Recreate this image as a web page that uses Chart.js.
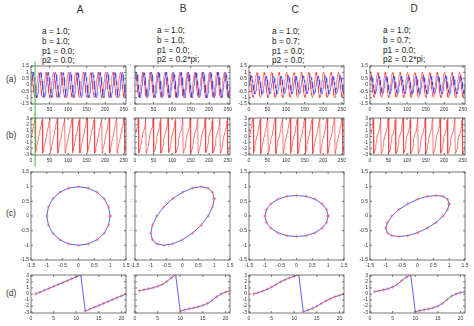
<!DOCTYPE html>
<html>
<head>
<meta charset="utf-8">
<script src="https://cdn.jsdelivr.net/npm/chart.js@4.4.1/dist/chart.umd.min.js"></script>
<style>
body { margin: 0; width: 474px; height: 326px; position: relative; overflow: hidden; background: #fff;
       font-family: "Liberation Sans", Arial, sans-serif; color: #333; }
.ttl { position: absolute; font-size: 10px; transform: translate(-50%, -50%); }
.prm { position: absolute; font-size: 8.3px; line-height: 9.8px; white-space: pre; color: #222; }
.row { position: absolute; font-size: 8.5px; transform: translateY(-50%); }
canvas { position: absolute; }
</style>
</head>
<body>
<div class="ttl" style="left:80px;top:9px">A</div>
<div class="ttl" style="left:183px;top:8px">B</div>
<div class="ttl" style="left:295px;top:9px">C</div>
<div class="ttl" style="left:414px;top:8px">D</div>

<div class="prm" style="left:42px;top:27px">a = 1.0;
b = 1.0;
p1 = 0.0;
p2 = 0.0;</div>
<div class="prm" style="left:157px;top:26px">a = 1.0;
b = 1.0;
p1 = 0.0;
p2 = 0.2*pi;</div>
<div class="prm" style="left:272px;top:27px">a = 1.0;
b = 0.7;
p1 = 0.0;
p2 = 0.0;</div>
<div class="prm" style="left:383px;top:26px">a = 1.0;
b = 0.7;
p1 = 0.0;
p2 = 0.2*pi;</div>

<div class="row" style="left:6px;top:79px">(a)</div>
<div class="row" style="left:6px;top:135px">(b)</div>
<div class="row" style="left:6px;top:213px">(c)</div>
<div class="row" style="left:6px;top:293px">(d)</div>

<script>
// signal samples (one cycle = 20 samples), 256 samples per trace
const redWave = [
1,0.95,0.81,0.59,0.31,0,-0.31,-0.59,-0.81,-0.95,-1,-0.95,-0.81,-0.59,-0.31,0,0.31,0.59,0.81,0.95,
1,0.95,0.81,0.59,0.31,0,-0.31,-0.59,-0.81,-0.95,-1,-0.95,-0.81,-0.59,-0.31,0,0.31,0.59,0.81,0.95,
1,0.95,0.81,0.59,0.31,0,-0.31,-0.59,-0.81,-0.95,-1,-0.95,-0.81,-0.59,-0.31,0,0.31,0.59,0.81,0.95,
1,0.95,0.81,0.59,0.31,0,-0.31,-0.59,-0.81,-0.95,-1,-0.95,-0.81,-0.59,-0.31,0,0.31,0.59,0.81,0.95,
1,0.95,0.81,0.59,0.31,0,-0.31,-0.59,-0.81,-0.95,-1,-0.95,-0.81,-0.59,-0.31,0,0.31,0.59,0.81,0.95,
1,0.95,0.81,0.59,0.31,0,-0.31,-0.59,-0.81,-0.95,-1,-0.95,-0.81,-0.59,-0.31,0,0.31,0.59,0.81,0.95,
1,0.95,0.81,0.59,0.31,0,-0.31,-0.59,-0.81,-0.95,-1,-0.95,-0.81,-0.59,-0.31,0,0.31,0.59,0.81,0.95,
1,0.95,0.81,0.59,0.31,0,-0.31,-0.59,-0.81,-0.95,-1,-0.95,-0.81,-0.59,-0.31,0,0.31,0.59,0.81,0.95,
1,0.95,0.81,0.59,0.31,0,-0.31,-0.59,-0.81,-0.95,-1,-0.95,-0.81,-0.59,-0.31,0,0.31,0.59,0.81,0.95,
1,0.95,0.81,0.59,0.31,0,-0.31,-0.59,-0.81,-0.95,-1,-0.95,-0.81,-0.59,-0.31,0,0.31,0.59,0.81,0.95,
1,0.95,0.81,0.59,0.31,0,-0.31,-0.59,-0.81,-0.95,-1,-0.95,-0.81,-0.59,-0.31,0,0.31,0.59,0.81,0.95,
1,0.95,0.81,0.59,0.31,0,-0.31,-0.59,-0.81,-0.95,-1,-0.95,-0.81,-0.59,-0.31,0,0.31,0.59,0.81,0.95,
1,0.95,0.81,0.59,0.31,0,-0.31,-0.59,-0.81,-0.95,-1,-0.95,-0.81,-0.59,-0.31,0
];
const blueA = [
0,0.31,0.59,0.81,0.95,1,0.95,0.81,0.59,0.31,0,-0.31,-0.59,-0.81,-0.95,-1,-0.95,-0.81,-0.59,-0.31,
0,0.31,0.59,0.81,0.95,1,0.95,0.81,0.59,0.31,0,-0.31,-0.59,-0.81,-0.95,-1,-0.95,-0.81,-0.59,-0.31,
0,0.31,0.59,0.81,0.95,1,0.95,0.81,0.59,0.31,0,-0.31,-0.59,-0.81,-0.95,-1,-0.95,-0.81,-0.59,-0.31,
0,0.31,0.59,0.81,0.95,1,0.95,0.81,0.59,0.31,0,-0.31,-0.59,-0.81,-0.95,-1,-0.95,-0.81,-0.59,-0.31,
0,0.31,0.59,0.81,0.95,1,0.95,0.81,0.59,0.31,0,-0.31,-0.59,-0.81,-0.95,-1,-0.95,-0.81,-0.59,-0.31,
0,0.31,0.59,0.81,0.95,1,0.95,0.81,0.59,0.31,0,-0.31,-0.59,-0.81,-0.95,-1,-0.95,-0.81,-0.59,-0.31,
0,0.31,0.59,0.81,0.95,1,0.95,0.81,0.59,0.31,0,-0.31,-0.59,-0.81,-0.95,-1,-0.95,-0.81,-0.59,-0.31,
0,0.31,0.59,0.81,0.95,1,0.95,0.81,0.59,0.31,0,-0.31,-0.59,-0.81,-0.95,-1,-0.95,-0.81,-0.59,-0.31,
0,0.31,0.59,0.81,0.95,1,0.95,0.81,0.59,0.31,0,-0.31,-0.59,-0.81,-0.95,-1,-0.95,-0.81,-0.59,-0.31,
0,0.31,0.59,0.81,0.95,1,0.95,0.81,0.59,0.31,0,-0.31,-0.59,-0.81,-0.95,-1,-0.95,-0.81,-0.59,-0.31,
0,0.31,0.59,0.81,0.95,1,0.95,0.81,0.59,0.31,0,-0.31,-0.59,-0.81,-0.95,-1,-0.95,-0.81,-0.59,-0.31,
0,0.31,0.59,0.81,0.95,1,0.95,0.81,0.59,0.31,0,-0.31,-0.59,-0.81,-0.95,-1,-0.95,-0.81,-0.59,-0.31,
0,0.31,0.59,0.81,0.95,1,0.95,0.81,0.59,0.31,0,-0.31,-0.59,-0.81,-0.95,-1
];
const blueB = [
0.59,0.81,0.95,1,0.95,0.81,0.59,0.31,0,-0.31,-0.59,-0.81,-0.95,-1,-0.95,-0.81,-0.59,-0.31,0,0.31,
0.59,0.81,0.95,1,0.95,0.81,0.59,0.31,0,-0.31,-0.59,-0.81,-0.95,-1,-0.95,-0.81,-0.59,-0.31,0,0.31,
0.59,0.81,0.95,1,0.95,0.81,0.59,0.31,0,-0.31,-0.59,-0.81,-0.95,-1,-0.95,-0.81,-0.59,-0.31,0,0.31,
0.59,0.81,0.95,1,0.95,0.81,0.59,0.31,0,-0.31,-0.59,-0.81,-0.95,-1,-0.95,-0.81,-0.59,-0.31,0,0.31,
0.59,0.81,0.95,1,0.95,0.81,0.59,0.31,0,-0.31,-0.59,-0.81,-0.95,-1,-0.95,-0.81,-0.59,-0.31,0,0.31,
0.59,0.81,0.95,1,0.95,0.81,0.59,0.31,0,-0.31,-0.59,-0.81,-0.95,-1,-0.95,-0.81,-0.59,-0.31,0,0.31,
0.59,0.81,0.95,1,0.95,0.81,0.59,0.31,0,-0.31,-0.59,-0.81,-0.95,-1,-0.95,-0.81,-0.59,-0.31,0,0.31,
0.59,0.81,0.95,1,0.95,0.81,0.59,0.31,0,-0.31,-0.59,-0.81,-0.95,-1,-0.95,-0.81,-0.59,-0.31,0,0.31,
0.59,0.81,0.95,1,0.95,0.81,0.59,0.31,0,-0.31,-0.59,-0.81,-0.95,-1,-0.95,-0.81,-0.59,-0.31,0,0.31,
0.59,0.81,0.95,1,0.95,0.81,0.59,0.31,0,-0.31,-0.59,-0.81,-0.95,-1,-0.95,-0.81,-0.59,-0.31,0,0.31,
0.59,0.81,0.95,1,0.95,0.81,0.59,0.31,0,-0.31,-0.59,-0.81,-0.95,-1,-0.95,-0.81,-0.59,-0.31,0,0.31,
0.59,0.81,0.95,1,0.95,0.81,0.59,0.31,0,-0.31,-0.59,-0.81,-0.95,-1,-0.95,-0.81,-0.59,-0.31,0,0.31,
0.59,0.81,0.95,1,0.95,0.81,0.59,0.31,0,-0.31,-0.59,-0.81,-0.95,-1,-0.95,-0.81
];
const blueC = [
0,0.22,0.41,0.57,0.67,0.7,0.67,0.57,0.41,0.22,0,-0.22,-0.41,-0.57,-0.67,-0.7,-0.67,-0.57,-0.41,-0.22,
0,0.22,0.41,0.57,0.67,0.7,0.67,0.57,0.41,0.22,0,-0.22,-0.41,-0.57,-0.67,-0.7,-0.67,-0.57,-0.41,-0.22,
0,0.22,0.41,0.57,0.67,0.7,0.67,0.57,0.41,0.22,0,-0.22,-0.41,-0.57,-0.67,-0.7,-0.67,-0.57,-0.41,-0.22,
0,0.22,0.41,0.57,0.67,0.7,0.67,0.57,0.41,0.22,0,-0.22,-0.41,-0.57,-0.67,-0.7,-0.67,-0.57,-0.41,-0.22,
0,0.22,0.41,0.57,0.67,0.7,0.67,0.57,0.41,0.22,0,-0.22,-0.41,-0.57,-0.67,-0.7,-0.67,-0.57,-0.41,-0.22,
0,0.22,0.41,0.57,0.67,0.7,0.67,0.57,0.41,0.22,0,-0.22,-0.41,-0.57,-0.67,-0.7,-0.67,-0.57,-0.41,-0.22,
0,0.22,0.41,0.57,0.67,0.7,0.67,0.57,0.41,0.22,0,-0.22,-0.41,-0.57,-0.67,-0.7,-0.67,-0.57,-0.41,-0.22,
0,0.22,0.41,0.57,0.67,0.7,0.67,0.57,0.41,0.22,0,-0.22,-0.41,-0.57,-0.67,-0.7,-0.67,-0.57,-0.41,-0.22,
0,0.22,0.41,0.57,0.67,0.7,0.67,0.57,0.41,0.22,0,-0.22,-0.41,-0.57,-0.67,-0.7,-0.67,-0.57,-0.41,-0.22,
0,0.22,0.41,0.57,0.67,0.7,0.67,0.57,0.41,0.22,0,-0.22,-0.41,-0.57,-0.67,-0.7,-0.67,-0.57,-0.41,-0.22,
0,0.22,0.41,0.57,0.67,0.7,0.67,0.57,0.41,0.22,0,-0.22,-0.41,-0.57,-0.67,-0.7,-0.67,-0.57,-0.41,-0.22,
0,0.22,0.41,0.57,0.67,0.7,0.67,0.57,0.41,0.22,0,-0.22,-0.41,-0.57,-0.67,-0.7,-0.67,-0.57,-0.41,-0.22,
0,0.22,0.41,0.57,0.67,0.7,0.67,0.57,0.41,0.22,0,-0.22,-0.41,-0.57,-0.67,-0.7
];
const blueD = [
0.41,0.57,0.67,0.7,0.67,0.57,0.41,0.22,0,-0.22,-0.41,-0.57,-0.67,-0.7,-0.67,-0.57,-0.41,-0.22,0,0.22,
0.41,0.57,0.67,0.7,0.67,0.57,0.41,0.22,0,-0.22,-0.41,-0.57,-0.67,-0.7,-0.67,-0.57,-0.41,-0.22,0,0.22,
0.41,0.57,0.67,0.7,0.67,0.57,0.41,0.22,0,-0.22,-0.41,-0.57,-0.67,-0.7,-0.67,-0.57,-0.41,-0.22,0,0.22,
0.41,0.57,0.67,0.7,0.67,0.57,0.41,0.22,0,-0.22,-0.41,-0.57,-0.67,-0.7,-0.67,-0.57,-0.41,-0.22,0,0.22,
0.41,0.57,0.67,0.7,0.67,0.57,0.41,0.22,0,-0.22,-0.41,-0.57,-0.67,-0.7,-0.67,-0.57,-0.41,-0.22,0,0.22,
0.41,0.57,0.67,0.7,0.67,0.57,0.41,0.22,0,-0.22,-0.41,-0.57,-0.67,-0.7,-0.67,-0.57,-0.41,-0.22,0,0.22,
0.41,0.57,0.67,0.7,0.67,0.57,0.41,0.22,0,-0.22,-0.41,-0.57,-0.67,-0.7,-0.67,-0.57,-0.41,-0.22,0,0.22,
0.41,0.57,0.67,0.7,0.67,0.57,0.41,0.22,0,-0.22,-0.41,-0.57,-0.67,-0.7,-0.67,-0.57,-0.41,-0.22,0,0.22,
0.41,0.57,0.67,0.7,0.67,0.57,0.41,0.22,0,-0.22,-0.41,-0.57,-0.67,-0.7,-0.67,-0.57,-0.41,-0.22,0,0.22,
0.41,0.57,0.67,0.7,0.67,0.57,0.41,0.22,0,-0.22,-0.41,-0.57,-0.67,-0.7,-0.67,-0.57,-0.41,-0.22,0,0.22,
0.41,0.57,0.67,0.7,0.67,0.57,0.41,0.22,0,-0.22,-0.41,-0.57,-0.67,-0.7,-0.67,-0.57,-0.41,-0.22,0,0.22,
0.41,0.57,0.67,0.7,0.67,0.57,0.41,0.22,0,-0.22,-0.41,-0.57,-0.67,-0.7,-0.67,-0.57,-0.41,-0.22,0,0.22,
0.41,0.57,0.67,0.7,0.67,0.57,0.41,0.22,0,-0.22,-0.41,-0.57,-0.67,-0.7,-0.67,-0.57
];
// phase traces (rad)
const phaseA = [
0,0.31,0.63,0.94,1.26,1.57,1.88,2.2,2.51,2.83,3.14,-2.83,-2.51,-2.2,-1.88,-1.57,-1.26,-0.94,-0.63,-0.31,
0,0.31,0.63,0.94,1.26,1.57,1.88,2.2,2.51,2.83,3.14,-2.83,-2.51,-2.2,-1.88,-1.57,-1.26,-0.94,-0.63,-0.31,
0,0.31,0.63,0.94,1.26,1.57,1.88,2.2,2.51,2.83,3.14,-2.83,-2.51,-2.2,-1.88,-1.57,-1.26,-0.94,-0.63,-0.31,
0,0.31,0.63,0.94,1.26,1.57,1.88,2.2,2.51,2.83,3.14,-2.83,-2.51,-2.2,-1.88,-1.57,-1.26,-0.94,-0.63,-0.31,
0,0.31,0.63,0.94,1.26,1.57,1.88,2.2,2.51,2.83,3.14,-2.83,-2.51,-2.2,-1.88,-1.57,-1.26,-0.94,-0.63,-0.31,
0,0.31,0.63,0.94,1.26,1.57,1.88,2.2,2.51,2.83,3.14,-2.83,-2.51,-2.2,-1.88,-1.57,-1.26,-0.94,-0.63,-0.31,
0,0.31,0.63,0.94,1.26,1.57,1.88,2.2,2.51,2.83,3.14,-2.83,-2.51,-2.2,-1.88,-1.57,-1.26,-0.94,-0.63,-0.31,
0,0.31,0.63,0.94,1.26,1.57,1.88,2.2,2.51,2.83,3.14,-2.83,-2.51,-2.2,-1.88,-1.57,-1.26,-0.94,-0.63,-0.31,
0,0.31,0.63,0.94,1.26,1.57,1.88,2.2,2.51,2.83,3.14,-2.83,-2.51,-2.2,-1.88,-1.57,-1.26,-0.94,-0.63,-0.31,
0,0.31,0.63,0.94,1.26,1.57,1.88,2.2,2.51,2.83,3.14,-2.83,-2.51,-2.2,-1.88,-1.57,-1.26,-0.94,-0.63,-0.31,
0,0.31,0.63,0.94,1.26,1.57,1.88,2.2,2.51,2.83,3.14,-2.83,-2.51,-2.2,-1.88,-1.57,-1.26,-0.94,-0.63,-0.31,
0,0.31,0.63,0.94,1.26,1.57,1.88,2.2,2.51,2.83,3.14,-2.83,-2.51,-2.2,-1.88,-1.57,-1.26,-0.94,-0.63,-0.31,
0,0.31,0.63,0.94,1.26,1.57,1.88,2.2,2.51,2.83,3.14,-2.83,-2.51,-2.2,-1.88,-1.57
];
const phaseB = [
0.53,0.71,0.87,1.04,1.26,1.57,2.05,2.66,3.14,-2.83,-2.61,-2.44,-2.28,-2.1,-1.88,-1.57,-1.09,-0.48,0,0.31,
0.53,0.71,0.87,1.04,1.26,1.57,2.05,2.66,3.14,-2.83,-2.61,-2.44,-2.28,-2.1,-1.88,-1.57,-1.09,-0.48,0,0.31,
0.53,0.71,0.87,1.04,1.26,1.57,2.05,2.66,3.14,-2.83,-2.61,-2.44,-2.28,-2.1,-1.88,-1.57,-1.09,-0.48,0,0.31,
0.53,0.71,0.87,1.04,1.26,1.57,2.05,2.66,3.14,-2.83,-2.61,-2.44,-2.28,-2.1,-1.88,-1.57,-1.09,-0.48,0,0.31,
0.53,0.71,0.87,1.04,1.26,1.57,2.05,2.66,3.14,-2.83,-2.61,-2.44,-2.28,-2.1,-1.88,-1.57,-1.09,-0.48,0,0.31,
0.53,0.71,0.87,1.04,1.26,1.57,2.05,2.66,3.14,-2.83,-2.61,-2.44,-2.28,-2.1,-1.88,-1.57,-1.09,-0.48,0,0.31,
0.53,0.71,0.87,1.04,1.26,1.57,2.05,2.66,3.14,-2.83,-2.61,-2.44,-2.28,-2.1,-1.88,-1.57,-1.09,-0.48,0,0.31,
0.53,0.71,0.87,1.04,1.26,1.57,2.05,2.66,3.14,-2.83,-2.61,-2.44,-2.28,-2.1,-1.88,-1.57,-1.09,-0.48,0,0.31,
0.53,0.71,0.87,1.04,1.26,1.57,2.05,2.66,3.14,-2.83,-2.61,-2.44,-2.28,-2.1,-1.88,-1.57,-1.09,-0.48,0,0.31,
0.53,0.71,0.87,1.04,1.26,1.57,2.05,2.66,3.14,-2.83,-2.61,-2.44,-2.28,-2.1,-1.88,-1.57,-1.09,-0.48,0,0.31,
0.53,0.71,0.87,1.04,1.26,1.57,2.05,2.66,3.14,-2.83,-2.61,-2.44,-2.28,-2.1,-1.88,-1.57,-1.09,-0.48,0,0.31,
0.53,0.71,0.87,1.04,1.26,1.57,2.05,2.66,3.14,-2.83,-2.61,-2.44,-2.28,-2.1,-1.88,-1.57,-1.09,-0.48,0,0.31,
0.53,0.71,0.87,1.04,1.26,1.57,2.05,2.66,3.14,-2.83,-2.61,-2.44,-2.28,-2.1,-1.88,-1.57
];
const phaseC = [
0,0.22,0.47,0.77,1.14,1.57,2.01,2.37,2.67,2.92,3.14,-2.92,-2.67,-2.37,-2.01,-1.57,-1.14,-0.77,-0.47,-0.22,
0,0.22,0.47,0.77,1.14,1.57,2.01,2.37,2.67,2.92,3.14,-2.92,-2.67,-2.37,-2.01,-1.57,-1.14,-0.77,-0.47,-0.22,
0,0.22,0.47,0.77,1.14,1.57,2.01,2.37,2.67,2.92,3.14,-2.92,-2.67,-2.37,-2.01,-1.57,-1.14,-0.77,-0.47,-0.22,
0,0.22,0.47,0.77,1.14,1.57,2.01,2.37,2.67,2.92,3.14,-2.92,-2.67,-2.37,-2.01,-1.57,-1.14,-0.77,-0.47,-0.22,
0,0.22,0.47,0.77,1.14,1.57,2.01,2.37,2.67,2.92,3.14,-2.92,-2.67,-2.37,-2.01,-1.57,-1.14,-0.77,-0.47,-0.22,
0,0.22,0.47,0.77,1.14,1.57,2.01,2.37,2.67,2.92,3.14,-2.92,-2.67,-2.37,-2.01,-1.57,-1.14,-0.77,-0.47,-0.22,
0,0.22,0.47,0.77,1.14,1.57,2.01,2.37,2.67,2.92,3.14,-2.92,-2.67,-2.37,-2.01,-1.57,-1.14,-0.77,-0.47,-0.22,
0,0.22,0.47,0.77,1.14,1.57,2.01,2.37,2.67,2.92,3.14,-2.92,-2.67,-2.37,-2.01,-1.57,-1.14,-0.77,-0.47,-0.22,
0,0.22,0.47,0.77,1.14,1.57,2.01,2.37,2.67,2.92,3.14,-2.92,-2.67,-2.37,-2.01,-1.57,-1.14,-0.77,-0.47,-0.22,
0,0.22,0.47,0.77,1.14,1.57,2.01,2.37,2.67,2.92,3.14,-2.92,-2.67,-2.37,-2.01,-1.57,-1.14,-0.77,-0.47,-0.22,
0,0.22,0.47,0.77,1.14,1.57,2.01,2.37,2.67,2.92,3.14,-2.92,-2.67,-2.37,-2.01,-1.57,-1.14,-0.77,-0.47,-0.22,
0,0.22,0.47,0.77,1.14,1.57,2.01,2.37,2.67,2.92,3.14,-2.92,-2.67,-2.37,-2.01,-1.57,-1.14,-0.77,-0.47,-0.22,
0,0.22,0.47,0.77,1.14,1.57,2.01,2.37,2.67,2.92,3.14,-2.92,-2.67,-2.37,-2.01,-1.57
];
const phaseD = [
0.39,0.54,0.69,0.87,1.14,1.57,2.21,2.79,3.14,-2.92,-2.75,-2.6,-2.45,-2.27,-2.01,-1.57,-0.93,-0.35,0,0.22,
0.39,0.54,0.69,0.87,1.14,1.57,2.21,2.79,3.14,-2.92,-2.75,-2.6,-2.45,-2.27,-2.01,-1.57,-0.93,-0.35,0,0.22,
0.39,0.54,0.69,0.87,1.14,1.57,2.21,2.79,3.14,-2.92,-2.75,-2.6,-2.45,-2.27,-2.01,-1.57,-0.93,-0.35,0,0.22,
0.39,0.54,0.69,0.87,1.14,1.57,2.21,2.79,3.14,-2.92,-2.75,-2.6,-2.45,-2.27,-2.01,-1.57,-0.93,-0.35,0,0.22,
0.39,0.54,0.69,0.87,1.14,1.57,2.21,2.79,3.14,-2.92,-2.75,-2.6,-2.45,-2.27,-2.01,-1.57,-0.93,-0.35,0,0.22,
0.39,0.54,0.69,0.87,1.14,1.57,2.21,2.79,3.14,-2.92,-2.75,-2.6,-2.45,-2.27,-2.01,-1.57,-0.93,-0.35,0,0.22,
0.39,0.54,0.69,0.87,1.14,1.57,2.21,2.79,3.14,-2.92,-2.75,-2.6,-2.45,-2.27,-2.01,-1.57,-0.93,-0.35,0,0.22,
0.39,0.54,0.69,0.87,1.14,1.57,2.21,2.79,3.14,-2.92,-2.75,-2.6,-2.45,-2.27,-2.01,-1.57,-0.93,-0.35,0,0.22,
0.39,0.54,0.69,0.87,1.14,1.57,2.21,2.79,3.14,-2.92,-2.75,-2.6,-2.45,-2.27,-2.01,-1.57,-0.93,-0.35,0,0.22,
0.39,0.54,0.69,0.87,1.14,1.57,2.21,2.79,3.14,-2.92,-2.75,-2.6,-2.45,-2.27,-2.01,-1.57,-0.93,-0.35,0,0.22,
0.39,0.54,0.69,0.87,1.14,1.57,2.21,2.79,3.14,-2.92,-2.75,-2.6,-2.45,-2.27,-2.01,-1.57,-0.93,-0.35,0,0.22,
0.39,0.54,0.69,0.87,1.14,1.57,2.21,2.79,3.14,-2.92,-2.75,-2.6,-2.45,-2.27,-2.01,-1.57,-0.93,-0.35,0,0.22,
0.39,0.54,0.69,0.87,1.14,1.57,2.21,2.79,3.14,-2.92,-2.75,-2.6,-2.45,-2.27,-2.01,-1.57
];

const sampleIdx = Array.from({ length: redWave.length }, (_, i) => i + 1);
const zoomCount = 21;            // samples shown in rows (c) and (d)
const cursorX = [11];            // green marker line in column A
const cursorSpanA = [-2.4, 1.85];
const cursorSpanB = [-5.1, 3.9];

const timeTicks = [0, 50, 100, 150, 200, 250];
const ampTicks = [-1.5, -1, -0.5, 0, 0.5, 1, 1.5];
const phaseTicks = [-3, -2, -1, 0, 1, 2, 3];
const zoomTicks = [0, 5, 10, 15, 20];

const blues = [blueA, blueB, blueC, blueD];
const phases = [phaseA, phaseB, phaseC, phaseD];

// layout
const cols = [{ l: 31, w: 95 }, { l: 135, w: 95 }, { l: 249, w: 95 }, { l: 370, w: 95 }];
const rows = [{ t: 66, h: 38 }, { t: 118, h: 37 }, { t: 172, h: 88 }, { t: 275, h: 38 }];
const ML = 26, MR = 9, MT = 5, MB = 12;

const RED = 'rgb(245,55,55)';
const BLUE = 'rgb(55,55,245)';

Chart.defaults.font.family = '"Liberation Sans", Arial, sans-serif';
Chart.defaults.color = '#333';

const boxPlugin = {
    id: 'box',
    afterDraw(chart) {
        const { ctx, chartArea: a, scales } = chart;
        ctx.save();
        ctx.strokeStyle = '#555';
        ctx.lineWidth = 0.8;
        ctx.strokeRect(a.left, a.top, a.right - a.left, a.bottom - a.top);
        ctx.beginPath();
        scales.x.ticks.forEach(t => {
            const px = scales.x.getPixelForValue(t.value);
            ctx.moveTo(px, a.bottom); ctx.lineTo(px, a.bottom - 2);
            ctx.moveTo(px, a.top); ctx.lineTo(px, a.top + 2);
        });
        scales.y.ticks.forEach(t => {
            const py = scales.y.getPixelForValue(t.value);
            ctx.moveTo(a.left, py); ctx.lineTo(a.left + 2, py);
            ctx.moveTo(a.right, py); ctx.lineTo(a.right - 2, py);
        });
        ctx.stroke();
        ctx.restore();
    }
};

function axis(min, max, ticks, isX, faint) {
    return {
        type: 'linear',
        min: min,
        max: max,
        grid: { display: false, drawTicks: false },
        border: { display: false },
        ticks: {
            font: { size: faint ? 3 : 5 },
            color: faint ? '#bbb' : '#333',
            padding: isX ? 3 : (faint ? 1 : 2),
            maxRotation: 0,
            autoSkip: false,
            callback: v => String(v)
        },
        afterBuildTicks: s => { s.ticks = ticks.map(v => ({ value: v })); },
        afterFit: s => {
            if (isX) s.height = MB; else s.width = ML;
            s.paddingLeft = s.paddingRight = s.paddingTop = s.paddingBottom = 0;
        }
    };
}

function makePanel(c, r, datasets, labels, xr, yr, xt, yt) {
    const col = cols[c], row = rows[r];
    const W = col.w + ML + MR, H = row.h + MT + MB;
    const cv = document.createElement('canvas');
    cv.width = W; cv.height = H;
    cv.style.left = (col.l - ML) + 'px';
    cv.style.top = (row.t - MT) + 'px';
    cv.style.width = W + 'px';
    cv.style.height = H + 'px';
    document.body.appendChild(cv);
    new Chart(cv.getContext('2d'), {
        type: 'line',
        data: { labels: labels, datasets: datasets },
        options: {
            responsive: false,
            animation: false,
            events: [],
            layout: { autoPadding: false, padding: { top: MT, right: MR, left: 0, bottom: 0 } },
            plugins: { legend: { display: false }, tooltip: { enabled: false } },
            scales: { x: axis(xr[0], xr[1], xt, true), y: axis(yr[0], yr[1], yt, false, c === 1) }
        },
        plugins: [boxPlugin]
    });
}

function lineSet(data, color, extra) {
    return Object.assign({ data: data, borderColor: color, borderWidth: 0.65, pointRadius: 0, tension: 0 }, extra || {});
}

for (let c = 0; c < 4; c++) {
    // (a) two traces
    const aSets = [lineSet(blues[c], BLUE), lineSet(redWave, RED)];
    const bSets = [lineSet(phases[c], RED)];
    if (c === 0) {
        aSets.unshift(lineSet([{ x: cursorX[0], y: cursorSpanA[0] }, { x: cursorX[0], y: cursorSpanA[1] }],
            'rgb(60,200,60)', { borderWidth: 1, clip: false }));
        bSets.unshift(lineSet([{ x: cursorX[0], y: cursorSpanB[0] }, { x: cursorX[0], y: cursorSpanB[1] }],
            'rgb(60,200,60)', { borderWidth: 1, clip: false }));
    }
    makePanel(c, 0, aSets, sampleIdx, [0, 256], [-1.5, 1.5], timeTicks, ampTicks);
    makePanel(c, 1, bSets, sampleIdx, [0, 256], [-Math.PI, Math.PI], timeTicks, phaseTicks);

    // (c) y vs x for the first samples
    const xs = redWave.slice(0, zoomCount), ys = blues[c].slice(0, zoomCount);
    const pts = xs.map((x, i) => ({ x: x, y: ys[i] }));
    makePanel(c, 2, [
        lineSet(pts, RED, { showLine: false, pointRadius: 1.7, pointStyle: 'cross', pointBorderColor: 'rgb(245,90,90)', pointBorderWidth: 0.6 }),
        lineSet(pts, BLUE, { borderWidth: 0.8 })
    ], undefined, [-1.5, 1.5], [-1.5, 1.5], ampTicks, ampTicks);

    // (d) phase of the first samples
    const ph = phases[c].slice(0, zoomCount);
    const dPts = ph.map((p, i) => ({ x: sampleIdx[i], y: p }));
    makePanel(c, 3, [
        lineSet(dPts, RED, { showLine: false, pointRadius: 1.7, pointStyle: 'cross', pointBorderColor: 'rgb(245,90,90)', pointBorderWidth: 0.6 }),
        lineSet(dPts, BLUE, { borderWidth: 0.8 })
    ], undefined, [0, 21], [-Math.PI, Math.PI], zoomTicks, phaseTicks);
}
</script>
</body>
</html>
